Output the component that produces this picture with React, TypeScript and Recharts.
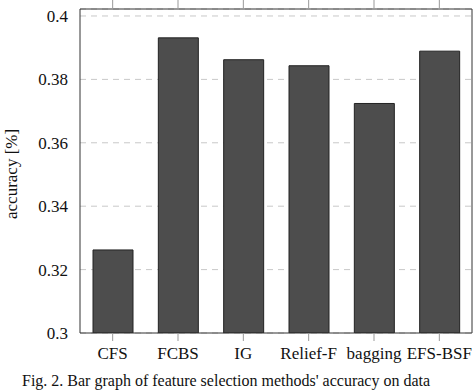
import React from 'react'
import {
  Bar,
  BarChart,
  CartesianGrid,
  XAxis,
  YAxis,
} from 'recharts'

const methods = ['CFS', 'FCBS', 'IG', 'Relief-F', 'bagging', 'EFS-BSF']
const accuracy = [0.3262, 0.3931, 0.3862, 0.3843, 0.3724, 0.3889]
const yTicks = [0.3, 0.32, 0.34, 0.36, 0.38, 0.4]

const data = methods.map((name, i) => ({ name, accuracy: accuracy[i] }))

const font = "'Liberation Serif', 'DejaVu Serif', serif"

export default function App() {
  return (
    <div style={{ position: 'absolute', left: 0, top: 0, width: 474, height: 391, overflow: 'hidden', background: '#fff' }}>
      <BarChart
        width={474}
        height={391}
        data={data}
        margin={{ top: 0, right: 0, bottom: 0, left: 0 }}
        barSize={40}
      >
        <CartesianGrid
          vertical={false}
          stroke="#c8c8c8"
          strokeDasharray="6 5"
        />
        <XAxis
          dataKey="name"
          height={58}
          stroke="#333"
          tickLine={{ stroke: '#999' }}
          tickSize={8}
          interval={0}
          tick={{ fill: '#111', fontSize: 17, fontFamily: font, dy: 4 }}
        />
        <XAxis
          xAxisId="top"
          dataKey="name"
          orientation="top"
          height={9}
          stroke="#333"
          interval={0}
          tickLine={{ stroke: '#999' }}
          tickSize={9}
          tick={() => <g />}
        />
        <YAxis
          width={80}
          domain={[0.3, 0.4022]}
          ticks={yTicks}
          allowDataOverflow
          stroke="#333"
          tickLine={false}
          tickFormatter={(v) => `${v}`}
          tick={{ fill: '#111', fontSize: 17, fontFamily: font, dx: -4 }}
          label={{
            value: 'accuracy [%]',
            angle: -90,
            position: 'insideLeft',
            dx: 6,
            dy: 48,
            style: { fill: '#111', fontSize: 17, fontFamily: font },
          }}
        />
        <YAxis
          yAxisId="right"
          orientation="right"
          width={2}
          domain={[0.3, 0.4022]}
          stroke="#333"
          tick={false}
          tickLine={false}
        />
        <Bar
          dataKey="accuracy"
          fill="#4d4d4d"
          stroke="#222"
          strokeWidth={1}
          isAnimationActive={false}
        />
      </BarChart>
      <div
        style={{
          position: 'absolute',
          left: 22,
          top: 372,
          fontFamily: font,
          fontSize: 16,
          color: '#111',
          whiteSpace: 'nowrap',
        }}
      >
        Fig. 2. Bar graph of feature selection methods' accuracy on data
      </div>
    </div>
  )
}
